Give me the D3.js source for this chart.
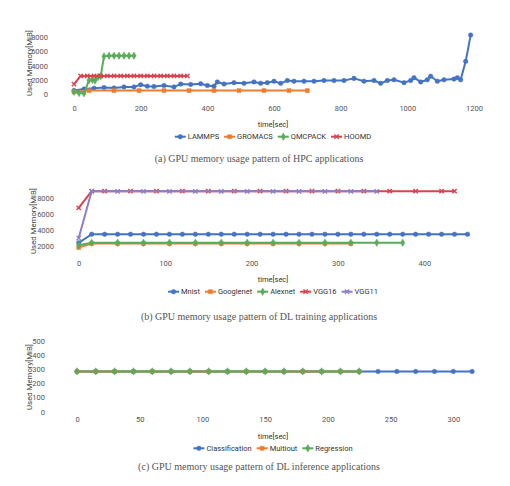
<!DOCTYPE html>
<html>
<head>
<meta charset="utf-8">
<script src="https://cdn.jsdelivr.net/npm/d3@7"></script>
<style>
  body { margin: 0; background: #fff; }
  svg { display: block; }
  .tick text { font-family: Roboto, "Noto Sans", sans-serif; fill: #555; }
</style>
</head>
<body>
<svg id="chart" width="510" height="486"></svg>
<script>
// ---- (a) HPC applications ----
var lammpsT = [0, 30, 60, 90, 120, 150, 180, 200, 220, 240, 270, 300, 320, 350, 380, 400, 420, 430, 450, 480,
  510, 540, 560, 580, 600, 620, 640, 660, 690, 720, 750, 780, 810, 840, 870, 900, 920, 940, 960, 990,
  1010, 1020, 1040, 1060, 1070, 1090, 1110, 1140, 1150, 1160, 1175, 1190];
var lammpsV = [500, 700, 800, 900, 850, 1000, 1000, 1300, 1100, 1050, 1200, 1000, 1400, 1350, 1450, 1200, 1100, 1700, 1400, 1600,
  1500, 1700, 1500, 1600, 1800, 1500, 1900, 1800, 1800, 1800, 1900, 1900, 1900, 2200, 1800, 1900, 1500, 1900, 2000, 1600,
  1900, 2300, 1700, 2000, 2500, 1800, 2000, 2100, 2300, 2000, 4600, 8300];
var gromacsT = [0, 45, 120, 195, 270, 345, 420, 495, 570, 645, 700];
var gromacsV = [300, 480, 480, 480, 480, 480, 480, 480, 480, 480, 480];
var qmcpackT = [0, 15, 30, 45, 55, 63, 72, 80, 90, 105, 120, 135, 150, 165, 180];
var qmcpackV = [300, 150, 100, 1950, 2000, 1900, 2400, 2500, 5300, 5400, 5400, 5400, 5400, 5400, 5400];
var hoomdT = [0, 20, 40, 60, 80, 100, 120, 140, 160, 180, 200, 220, 240, 260, 280, 300, 320, 340];
var hoomdV = [1400, 2550, 2550, 2550, 2550, 2550, 2550, 2550, 2550, 2550, 2550, 2550, 2550, 2550, 2550, 2550, 2550, 2550];

// ---- (b) DL training ----
var mnistT = [0, 15, 30, 45, 60, 75, 90, 105, 120, 135, 150, 165, 180, 195, 210, 225, 240, 255, 270, 285, 300,
  315, 330, 345, 360, 375, 390, 405, 420, 435, 450];
var mnistV = [2400, 3480, 3480, 3480, 3480, 3480, 3480, 3480, 3480, 3480, 3480, 3480, 3480, 3480, 3480, 3480,
  3480, 3480, 3480, 3480, 3480, 3480, 3480, 3480, 3480, 3480, 3480, 3480, 3480, 3480, 3480];
var googlenetT = [0, 15, 45, 75, 105, 135, 165, 195, 225, 255, 285, 315];
var googlenetV = [1800, 2300, 2300, 2300, 2300, 2300, 2300, 2300, 2300, 2300, 2300, 2300];
var alexnetT = [0, 15, 45, 75, 105, 135, 165, 195, 225, 255, 285, 315, 345, 375];
var alexnetV = [2100, 2420, 2420, 2420, 2420, 2420, 2420, 2420, 2420, 2420, 2420, 2420, 2420, 2420];
var vgg16T = [0, 15, 30, 60, 90, 120, 150, 180, 210, 240, 270, 300, 330, 360, 390, 420, 435];
var vgg16V = [6800, 8900, 8900, 8900, 8900, 8900, 8900, 8900, 8900, 8900, 8900, 8900, 8900, 8900, 8900, 8900, 8900];
var vgg11T = [0, 15, 45, 75, 105, 135, 165, 195, 225, 255, 285, 315, 345];
var vgg11V = [3000, 8880, 8880, 8880, 8880, 8880, 8880, 8880, 8880, 8880, 8880, 8880, 8880];

// ---- (c) DL inference ----
var classificationT = [0, 15, 30, 45, 60, 75, 90, 105, 120, 135, 150, 165, 180, 195, 210, 225, 240, 255, 270, 285, 300, 315];
var classificationV = [285, 285, 285, 285, 285, 285, 285, 285, 285, 285, 285, 285, 285, 285, 285, 285, 285, 285, 285, 285, 285, 285];
var multioutT = [0, 15, 30, 45, 60, 75, 90, 105, 120, 135, 150, 165, 180, 195, 210, 225];
var multioutV = [285, 285, 285, 285, 285, 285, 285, 285, 285, 285, 285, 285, 285, 285, 285, 285];
var regressionT = [0, 15, 30, 45, 60, 75, 90, 105, 120, 135, 150, 165, 180, 195, 210, 225];
var regressionV = [285, 285, 285, 285, 285, 285, 285, 285, 285, 285, 285, 285, 285, 285, 285, 285];

var ticksA = [0, 200, 400, 600, 800, 1000, 1200], yTicksA = [0, 2000, 4000, 6000, 8000];
var ticksB = [0, 100, 200, 300, 400], yTicksB = [2000, 4000, 6000, 8000];
var ticksC = [0, 50, 100, 150, 200, 250, 300], yTicksC = [0, 100, 200, 300, 400, 500];

var BLUE = '#4472c4', ORANGE = '#ed7d31', GREEN = '#5aab5a', RED = '#d9434e', PURPLE = '#8b7fcb';

function zip(ts, vs) { return ts.map(function(t, i) { return [t, vs[i]]; }); }

var panels = [
  {
    xDomain: [0, 1200], xRange: [74, 474], yDomain: [0, 8000], yRange: [94, 37.2],
    xTicks: ticksA, yTicks: yTicksA, yLabelX: 48, titleX: 29, titleY: 63,
    tickY: 108.5, timeY: 127, legendY: 136.7, captionY: 162,
    caption: '(a) GPU memory usage pattern of HPC applications',
    series: [
      { name: 'LAMMPS', color: BLUE, sym: d3.symbolCircle, pts: zip(lammpsT, lammpsV) },
      { name: 'GROMACS', color: ORANGE, sym: d3.symbolSquare, pts: zip(gromacsT, gromacsV) },
      { name: 'QMCPACK', color: GREEN, sym: d3.symbolDiamond, pts: zip(qmcpackT, qmcpackV) },
      { name: 'HOOMD', color: RED, sym: d3.symbolTimes, pts: zip(hoomdT, hoomdV) }
    ]
  },
  {
    xDomain: [0, 400], xRange: [78.7, 424.3], yDomain: [2000, 8000], yRange: [246, 198.3],
    xTicks: ticksB, yTicks: yTicksB, yLabelX: 54, titleX: 33, titleY: 221,
    tickY: 263.5, timeY: 281.5, legendY: 291.7, captionY: 320,
    caption: '(b) GPU memory usage pattern of DL training applications',
    series: [
      { name: 'Mnist', color: BLUE, sym: d3.symbolCircle, pts: zip(mnistT, mnistV) },
      { name: 'Googlenet', color: ORANGE, sym: d3.symbolSquare, pts: zip(googlenetT, googlenetV) },
      { name: 'Alexnet', color: GREEN, sym: d3.symbolDiamond, pts: zip(alexnetT, alexnetV) },
      { name: 'VGG16', color: RED, sym: d3.symbolTimes, pts: zip(vgg16T, vgg16V) },
      { name: 'VGG11', color: PURPLE, sym: d3.symbolTimes, pts: zip(vgg11T, vgg11V) }
    ]
  },
  {
    xDomain: [0, 300], xRange: [77, 453.3], yDomain: [0, 500], yRange: [411.7, 341],
    xTicks: ticksC, yTicks: yTicksC, yLabelX: 45, titleX: 29, titleY: 377,
    tickY: 420, timeY: 439, legendY: 448.3, captionY: 470,
    caption: '(c) GPU memory usage pattern of DL inference applications',
    series: [
      { name: 'Classification', color: BLUE, sym: d3.symbolCircle, pts: zip(classificationT, classificationV) },
      { name: 'Multiout', color: ORANGE, sym: d3.symbolSquare, pts: zip(multioutT, multioutV) },
      { name: 'Regression', color: GREEN, sym: d3.symbolDiamond, pts: zip(regressionT, regressionV) }
    ]
  }
];

var svg = d3.select('#chart');
var FONT = 'Roboto, "Noto Sans", sans-serif';

panels.forEach(function(p) {
  var x = d3.scaleLinear().domain(p.xDomain).range(p.xRange);
  var y = d3.scaleLinear().domain(p.yDomain).range(p.yRange);
  var g = svg.append('g');

  // x axis labels
  var xa = g.append('g')
    .attr('transform', 'translate(0,' + (p.tickY - 9) + ')')
    .call(d3.axisBottom(x).tickValues(p.xTicks).tickSize(0).tickPadding(6).tickFormat(d3.format('d')));
  xa.select('.domain').remove();
  xa.selectAll('text').attr('font-size', 7.5);

  // y axis labels
  var ya = g.append('g')
    .attr('transform', 'translate(' + p.yLabelX + ',0)')
    .call(d3.axisLeft(y).tickValues(p.yTicks).tickSize(0).tickPadding(0).tickFormat(d3.format('d')));
  ya.select('.domain').remove();
  ya.selectAll('text').attr('font-size', 7.5);

  g.append('text')
    .attr('transform', 'translate(' + p.titleX + ',' + p.titleY + ') rotate(-90)')
    .attr('text-anchor', 'middle').attr('dominant-baseline', 'central')
    .attr('font-family', FONT).attr('font-size', 7.8).attr('fill', '#444')
    .text('Used Memory[MiB]');

  var line = d3.line().x(function(d) { return x(d[0]); }).y(function(d) { return y(d[1]); });

  p.series.forEach(function(s) {
    g.append('path').datum(s.pts)
      .attr('d', line).attr('fill', 'none')
      .attr('stroke', s.color).attr('stroke-width', 2).attr('stroke-linejoin', 'round');
    g.selectAll(null).data(s.pts).enter().append('path')
      .attr('transform', function(d) { return 'translate(' + x(d[0]) + ',' + y(d[1]) + ')'; })
      .attr('d', d3.symbol().type(s.sym).size(s.sym === d3.symbolTimes ? 14 : 16))
      .attr('fill', s.color).attr('stroke', s.color).attr('stroke-width', s.sym === d3.symbolTimes ? 1.4 : 0.5);
  });

  g.append('text')
    .attr('x', 273).attr('y', p.timeY).attr('text-anchor', 'middle')
    .attr('font-family', FONT).attr('font-size', 7.5).attr('fill', '#333')
    .text('time[sec]');

  // legend, centred
  var leg = g.append('g');
  var cx = 0;
  p.series.forEach(function(s) {
    var it = leg.append('g').attr('transform', 'translate(' + cx + ',0)');
    it.append('line').attr('x1', 0).attr('x2', 11).attr('y1', 0).attr('y2', 0)
      .attr('stroke', s.color).attr('stroke-width', 2);
    it.append('path').attr('transform', 'translate(5.5,0)')
      .attr('d', d3.symbol().type(s.sym).size(s.sym === d3.symbolTimes ? 14 : 16))
      .attr('fill', s.color).attr('stroke', s.color).attr('stroke-width', s.sym === d3.symbolTimes ? 1.4 : 0.5);
    var t = it.append('text').attr('x', 13).attr('y', 0).attr('dominant-baseline', 'central')
      .attr('font-family', FONT).attr('font-size', 7.5).attr('fill', '#333').text(s.name);
    cx += 13 + t.node().getComputedTextLength() + 5;
  });
  var lw = cx - 5;
  leg.attr('transform', 'translate(' + (273 - lw / 2) + ',' + p.legendY + ')');

  g.append('text')
    .attr('x', 259).attr('y', p.captionY).attr('text-anchor', 'middle')
    .attr('font-family', '"Liberation Serif", "DejaVu Serif", serif').attr('font-size', 10).attr('fill', '#555')
    .text(p.caption);
});
</script>
</body>
</html>
